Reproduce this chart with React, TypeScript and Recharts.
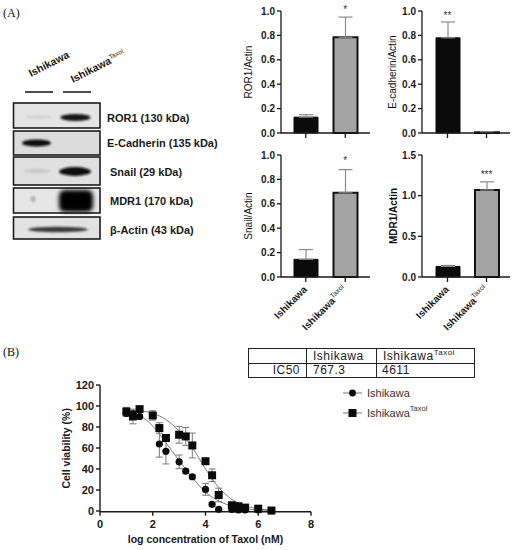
import React from 'react';
import {
  BarChart, Bar, XAxis, YAxis, Cell, ErrorBar, ReferenceDot,
  ComposedChart, Line, Scatter,
} from 'recharts';

const FONT = '"Liberation Sans", Arial, Helvetica, sans-serif';
const INK = '#1a1a1a';

// ---------- (A) bar panels ----------
const groups = ['Ishikawa', 'IshikawaTaxol'];
const groupNames = ['Ishikawa', 'Ishikawa'];
const groupSups = ['', 'Taxol'];

const ror1Mean = [0.13, 0.785];
const ror1Sem = [0.02, 0.165];
const ecadMean = [0.78, 0.006];
const ecadSem = [0.13, 0.004];
const snailMean = [0.145, 0.69];
const snailSem = [0.08, 0.19];
const mdr1Mean = [0.13, 1.07];
const mdr1Sem = [0.012, 0.1];

const ratioTicks = [0, 0.2, 0.4, 0.6, 0.8, 1.0];
const mdr1Ticks = [0, 0.5, 1.0, 1.5];

const ror1Sig = { group: 'IshikawaTaxol', mark: '*', at: 0.98 };
const ecadSig = { group: 'Ishikawa', mark: '**', at: 0.935 };
const snailSig = { group: 'IshikawaTaxol', mark: '*', at: 0.93 };
const mdr1Sig = { group: 'IshikawaTaxol', mark: '***', at: 1.22 };

// ---------- (B) dose response ----------
const ishX = [1, 1.25, 1.5, 2.25, 2.5, 3, 3.25, 3.5, 4, 4.25, 4.5, 5, 5.25, 5.5, 6, 6.5];
const ishY = [93, 92.5, 90, 63.8, 56.8, 46.8, 37.9, 32.6, 20.5, 6.3, 1.6, 1.5, 1, 1, 1.2, 0.3];
const ishErr = [3, 3, 2, 12.5, 12, 6.5, 2, 2, 5.5, 2, 1, 1, 1, 1, 1, 1];

const taxX = [1, 1.25, 1.5, 2, 2.25, 2.5, 3, 3.25, 3.5, 4, 4.25, 4.5, 5, 5.25, 5.5, 6, 6.5];
const taxY = [94.7, 90, 97, 91, 79, 69.5, 72.6, 71, 62.4, 47.4, 34, 15.2, 5.4, 4.5, 3.2, 2.2, 0.4];
const taxErr = [4, 7, 2, 4.5, 5, 3, 8, 8.5, 11.8, 2, 6, 6.5, 1, 1, 1, 1, 1];

const curveX = [1, 1.5, 2, 2.5, 3, 3.5, 4, 4.5, 5, 5.5, 6, 6.5];
const ishCurveY = [94, 91, 81, 65, 48, 32, 18, 9.5, 4.7, 2, 1, 0.5];
const taxCurveY = [96, 95.5, 93, 87, 76, 60.5, 40, 22.5, 11, 5, 2, 1];

const viabilityTicks = [0, 20, 40, 60, 80, 100, 120];
const logTicks = [0, 2, 4, 6, 8];

const tableHead = ['', 'Ishikawa', 'Ishikawa'];
const tableHeadSup = ['', '', 'Taxol'];
const tableRow = ['IC50', '767.3', '4611'];

const legendNames = ['Ishikawa', 'Ishikawa'];
const legendSups = ['', 'Taxol'];

// ---------- western blot (picture) ----------
const blotRows = [
  { name: 'ROR1 (130 kDa)', top: 103, h: 25, labelX: 107, labelY: 117.5, bg: '#e4e4e4' },
  { name: 'E-Cadherin (135 kDa)', top: 131, h: 24, labelX: 107, labelY: 143, bg: '#dcdcdc' },
  { name: 'Snail (29 kDa)', top: 157, h: 28, labelX: 110, labelY: 172, bg: '#e0e0e0' },
  { name: 'MDR1 (170 kDa)', top: 188, h: 25, labelX: 110, labelY: 201, bg: '#e6e6e6' },
  { name: '\u03b2-Actin (43 kDa)', top: 217, h: 22, labelX: 110, labelY: 229.5, bg: '#e2e2e2' },
];

const makeRows = (mean: number[], sem: number[]) =>
  groups.map((g, i) => ({ group: g, value: mean[i], err: [0, sem[i]] }));

const GroupTick = (props: any) => {
  const { x, y, payload } = props;
  const i = groups.indexOf(payload.value);
  return (
    <g transform={`translate(${x + 2},${y + 6}) rotate(-45)`}>
      <text x={0} y={0} textAnchor="end" fontSize={10} fontWeight="bold" fill={INK} fontFamily={FONT}>
        {groupNames[i]}
        {groupSups[i] ? (
          <tspan dy={-4} fontSize={7} fontWeight="normal">{groupSups[i]}</tspan>
        ) : null}
      </text>
    </g>
  );
};

const NoTick = () => <g />;

function BarPanel(props: any) {
  const { left, top, width, height, rows, ticks, domain, yLabel, yBold, labelOffset, showNames, padding, sig } = props;
  return (
    <div style={{ position: 'absolute', left, top }}>
      <BarChart width={width} height={height} data={rows} margin={{ top: 11, right: 5, left: 0, bottom: 0 }}>
        <XAxis
          dataKey="group"
          padding={padding}
          height={height - 133}
          tickSize={5}
          axisLine={{ stroke: INK, strokeWidth: 1.3 }}
          tickLine={{ stroke: INK, strokeWidth: 1.3 }}
          tick={showNames ? <GroupTick /> : <NoTick />}
          interval={0}
        />
        <YAxis
          domain={domain}
          ticks={ticks}
          width={46}
          tickSize={4}
          tickMargin={2}
          interval={0}
          tickFormatter={(v: number) => v.toFixed(1)}
          tick={{ fontSize: 10, fontWeight: 'bold', fill: INK, fontFamily: FONT }}
          axisLine={{ stroke: INK, strokeWidth: 1.3 }}
          tickLine={{ stroke: INK, strokeWidth: 1.3 }}
          label={{
            value: yLabel,
            angle: -90,
            position: 'insideLeft',
            offset: labelOffset,
            style: { textAnchor: 'middle', fontSize: 10, fontWeight: yBold ? 'bold' : 'normal', fill: '#111', fontFamily: FONT },
          }}
        />
        <Bar dataKey="value" barSize={24} isAnimationActive={false}>
          {rows.map((r: any, i: number) => (
            <Cell
              key={r.group}
              fill={i === 0 ? '#0b0b0b' : '#a4a4a4'}
              stroke={i === 0 ? '#0b0b0b' : '#111'}
              strokeWidth={i === 0 ? 1 : 2}
            />
          ))}
          <ErrorBar dataKey="err" width={7} stroke="#8a8a8a" strokeWidth={1.2} direction="y" />
        </Bar>
        <ReferenceDot
          x={sig.group}
          y={sig.at}
          r={0}
          ifOverflow="visible"
          shape={(p: any) => (
            <text x={p.cx} y={p.cy} textAnchor="middle" fontSize={10} fill="#333" stroke="none" fontFamily={FONT}>
              {sig.mark}
            </text>
          )}
        />
      </BarChart>
    </div>
  );
}

const CircleMark = (p: any) => <circle cx={p.cx} cy={p.cy} r={3.6} fill="#0a0a0a" />;
const SquareMark = (p: any) => <rect x={p.cx - 4} y={p.cy - 4} width={8} height={8} fill="#0a0a0a" />;

function Blot() {
  return (
    <svg width={235} height={250} style={{ position: 'absolute', left: 0, top: 0 }}>
      <defs>
        <filter id="b1" x="-50%" y="-100%" width="200%" height="300%">
          <feGaussianBlur stdDeviation="1.3" />
        </filter>
        <filter id="b2" x="-50%" y="-50%" width="200%" height="200%">
          <feGaussianBlur stdDeviation="2.2" />
        </filter>
      </defs>
      <text x={3} y={17} fontFamily='"Liberation Serif", "Times New Roman", serif' fontSize={12} fill="#111">(A)</text>
      <text transform="translate(31,77) rotate(-27)" fontSize={10.5} fontWeight="bold" fill={INK} fontFamily={FONT}>Ishikawa</text>
      <text transform="translate(73,83) rotate(-27)" fontSize={10.5} fontWeight="bold" fill={INK} fontFamily={FONT}>
        Ishikawa<tspan dy={-4} fontSize={6.5} fontWeight="normal">Taxol</tspan>
      </text>
      <line x1={25} y1={92} x2={53} y2={92} stroke="#111" strokeWidth={1.5} />
      <line x1={63} y1={92} x2={91} y2={92} stroke="#111" strokeWidth={1.5} />
      {blotRows.map((r) => (
        <g key={r.name}>
          <rect x={13.5} y={r.top} width={86.5} height={r.h} fill={r.bg} stroke="#1c1c1c" strokeWidth={1.6} />
          <text x={r.labelX} y={r.labelY} dominantBaseline="central" fontSize={11} fontWeight="bold" fill={INK} fontFamily={FONT}>
            {r.name}
          </text>
        </g>
      ))}
      <g filter="url(#b1)">
        <ellipse cx={38} cy={117} rx={13} ry={1.8} fill="#d0d0d0" />
        <ellipse cx={75.5} cy={117.5} rx={15} ry={3.4} fill="#151515" />
        <ellipse cx={36.5} cy={143} rx={14.5} ry={3.6} fill="#0d0d0d" />
        <ellipse cx={37} cy={171} rx={13} ry={2.2} fill="#c8c8c8" />
        <ellipse cx={75} cy={171.5} rx={16} ry={4.4} fill="#0e0e0e" />
        <ellipse cx={33} cy={199} rx={2.5} ry={3} fill="#b0b0b0" />
        <ellipse cx={58} cy={229.5} rx={30} ry={2.8} fill="#3a3a3a" />
      </g>
      <g filter="url(#b2)">
        <rect x={59} y={190} width={34} height={22} rx={6} fill="#060606" />
      </g>
    </svg>
  );
}

function DoseLegend() {
  return (
    <svg width={170} height={40} style={{ position: 'absolute', left: 340, top: 383 }}>
      {legendNames.map((n, i) => {
        const y = 10 + i * 20;
        return (
          <g key={i}>
            <line x1={3} y1={y} x2={22} y2={y} stroke="#777" strokeWidth={1} />
            {i === 0 ? (
              <circle cx={12.5} cy={y} r={3.4} fill="#0a0a0a" />
            ) : (
              <rect x={8.5} y={y - 4} width={8} height={8} fill="#0a0a0a" />
            )}
            <text x={27} y={y} dominantBaseline="central" fontSize={11} fill="#333" fontFamily={FONT}>
              {n}
              {legendSups[i] ? <tspan dy={-5} fontSize={7.5}>{legendSups[i]}</tspan> : null}
            </text>
          </g>
        );
      })}
    </svg>
  );
}

function IcTable() {
  const cellBase: React.CSSProperties = {
    border: '1px solid #222',
    padding: 0,
    lineHeight: '13px',
    whiteSpace: 'nowrap',
  };
  const widths = [57, 63, 91];
  return (
    <table
      style={{
        position: 'absolute', left: 248, top: 348, borderCollapse: 'collapse',
        fontFamily: FONT, fontSize: 12, letterSpacing: 0.5, color: '#222',
        border: '1.5px solid #222', tableLayout: 'fixed', width: 211,
      }}
    >
      <tbody>
        <tr style={{ height: 15 }}>
          {tableHead.map((h, i) => (
            <td key={i} style={{ ...cellBase, width: widths[i], paddingLeft: i === 0 ? 0 : 6 }}>
              {h}
              {tableHeadSup[i] ? (
                <span style={{ fontSize: 8, position: 'relative', top: -5, lineHeight: 0 }}>{tableHeadSup[i]}</span>
              ) : null}
            </td>
          ))}
        </tr>
        <tr style={{ height: 14 }}>
          {tableRow.map((c, i) => (
            <td
              key={i}
              style={{
                ...cellBase,
                width: widths[i],
                textAlign: i === 0 ? 'right' : 'left',
                paddingRight: i === 0 ? 6 : 0,
                paddingLeft: i === 0 ? 0 : i === 1 ? 6 : 5,
              }}
            >
              {c}
            </td>
          ))}
        </tr>
      </tbody>
    </table>
  );
}

export default function App() {
  const ishPoints = ishX.map((x, i) => ({ x, y: ishY[i], err: ishErr[i] }));
  const taxPoints = taxX.map((x, i) => ({ x, y: taxY[i], err: taxErr[i] }));
  const ishCurve = curveX.map((x, i) => ({ x, y: ishCurveY[i] }));
  const taxCurve = curveX.map((x, i) => ({ x, y: taxCurveY[i] }));
  const axisStyle = { stroke: INK, strokeWidth: 1.4 };
  const tickStyle = { fontSize: 11, fontWeight: 'bold', fill: INK, fontFamily: FONT };

  return (
    <div style={{ position: 'absolute', left: 0, top: 0, width: 517, height: 550, background: '#fff', overflow: 'hidden', fontFamily: FONT }}>
      <Blot />
      <BarPanel left={235} top={0} width={140} height={141} rows={makeRows(ror1Mean, ror1Sem)} ticks={ratioTicks} domain={[0, 1]}
        yLabel="ROR1/Actin" yBold={false} labelOffset={13} showNames={false} padding={{ left: 5, right: 5 }} sig={ror1Sig} />
      <BarPanel left={376} top={0} width={139} height={141} rows={makeRows(ecadMean, ecadSem)} ticks={ratioTicks} domain={[0, 1]}
        yLabel="E-cadherin/Actin" yBold={false} labelOffset={16} showNames={false} padding={{ left: 6, right: 4 }} sig={ecadSig} />
      <BarPanel left={235} top={144} width={140} height={200} rows={makeRows(snailMean, snailSem)} ticks={ratioTicks} domain={[0, 1]}
        yLabel="Snail/Actin" yBold={false} labelOffset={13} showNames padding={{ left: 5, right: 5 }} sig={snailSig} />
      <BarPanel left={376} top={144} width={139} height={200} rows={makeRows(mdr1Mean, mdr1Sem)} ticks={mdr1Ticks} domain={[0, 1.5]}
        yLabel="MDR1/Actin" yBold labelOffset={17} showNames padding={{ left: 6, right: 4 }} sig={mdr1Sig} />

      <div style={{ position: 'absolute', left: 3, top: 345, fontFamily: '"Liberation Serif", "Times New Roman", serif', fontSize: 12, color: '#111' }}>(B)</div>
      <IcTable />

      <div style={{ position: 'absolute', left: 30, top: 375 }}>
        <ComposedChart width={290} height={175} margin={{ top: 10, right: 9, left: 0, bottom: 0 }}>
          <XAxis
            type="number"
            dataKey="x"
            domain={[0, 8]}
            ticks={logTicks}
            interval={0}
            height={38.3}
            tickSize={4}
            tickMargin={4}
            axisLine={axisStyle}
            tickLine={axisStyle}
            tick={tickStyle}
            label={{
              value: 'log concentration of Taxol (nM)',
              position: 'insideBottom',
              offset: 7,
              style: { fontSize: 10.5, fontWeight: 'bold', fill: INK, fontFamily: FONT },
            }}
          />
          <YAxis
            type="number"
            domain={[0, 120]}
            ticks={viabilityTicks}
            interval={0}
            width={70}
            tickSize={4}
            tickMargin={2}
            axisLine={axisStyle}
            tickLine={axisStyle}
            tick={tickStyle}
            label={{
              value: 'Cell viability (%)',
              angle: -90,
              position: 'insideLeft',
              offset: 36,
              style: { textAnchor: 'middle', fontSize: 10.5, fontWeight: 'bold', fill: INK, fontFamily: FONT },
            }}
          />
          <Line data={ishCurve} dataKey="y" type="monotone" stroke="#7a7a7a" strokeWidth={1} dot={false} isAnimationActive={false} />
          <Line data={taxCurve} dataKey="y" type="monotone" stroke="#7a7a7a" strokeWidth={1} dot={false} isAnimationActive={false} />
          <Scatter data={ishPoints} dataKey="y" shape={CircleMark} isAnimationActive={false}>
            <ErrorBar dataKey="err" direction="y" width={3.5} stroke="#7a7a7a" strokeWidth={1} />
          </Scatter>
          <Scatter data={taxPoints} dataKey="y" shape={SquareMark} isAnimationActive={false}>
            <ErrorBar dataKey="err" direction="y" width={3.5} stroke="#7a7a7a" strokeWidth={1} />
          </Scatter>
        </ComposedChart>
      </div>
      <DoseLegend />
    </div>
  );
}
